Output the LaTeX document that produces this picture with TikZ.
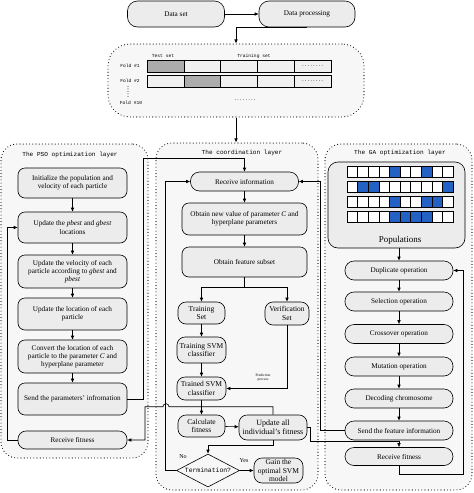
\documentclass[tikz,border=0pt]{standalone}
\usepackage{fontspec}
\setmainfont{Liberation Serif}
\setmonofont{Liberation Mono}
\usetikzlibrary{arrows.meta, shapes.geometric}
\definecolor{boxgray}{RGB}{236,236,236}
\definecolor{layergray}{RGB}{247,247,247}
\definecolor{testgray}{RGB}{172,172,172}
\definecolor{cellgray}{RGB}{240,240,240}
\definecolor{popblue}{RGB}{35,98,196}

\begin{document}
\begin{tikzpicture}[x=1pt, y=-1pt, line width=0.6pt, >={Latex[length=4pt,width=3.6pt]},
  layer/.style={draw, rounded corners=16pt, fill=layergray, line width=1.1pt, dash pattern=on 0pt off 3.2pt, line cap=round},
  box/.style={rectangle, draw, rounded corners=7pt, fill=boxgray, align=center, inner sep=1pt, font=\fontsize{7.2}{8.2}\selectfont},
  psobox/.style={box, minimum width=109},
  pill/.style={box, rounded corners=9pt, minimum width=108, minimum height=19},
  small/.style={box, rounded corners=8pt, font=\fontsize{7.5}{8.5}\selectfont},
  title/.style={font=\ttfamily\fontsize{6.1}{7}\selectfont},
  tiny/.style={font=\ttfamily\fontsize{4.6}{5}\selectfont},
  foldcell/.style={rectangle, draw, minimum width=36.8, minimum height=12, inner sep=0pt},
  popcell/.style={rectangle, draw, fill=white, minimum width=10.6, minimum height=10.5, inner sep=0pt},
]
\useasboundingbox (0,0) rectangle (474,493);

% データ
\node[box, rounded corners=10pt, minimum width=97, minimum height=26] (dataset) at (176,14) {Data set};
\node[box, rounded corners=10pt, minimum width=96, minimum height=26] (dataproc) at (307,14) {Data processing};
\draw[->] (dataset) -- (dataproc);

% 交差検証
\node[layer, rounded corners=22pt, minimum width=256, minimum height=73] (folds) at (236,80.5) {};
\draw[->] (dataproc.south) -| (folds.north);
\foreach \c/\ca/\cb in {1/testgray/cellgray, 2/cellgray/testgray, 3/cellgray/cellgray, 4/cellgray/cellgray, 5/cellgray/cellgray}{
  \node[foldcell, fill=\ca] (fa\c) at ({147+36.8*(\c-0.5)},66) {};
  \node[foldcell, fill=\cb] (fb\c) at ({147+36.8*(\c-0.5)},81) {};
}
\node[tiny] (testlbl) at (163,56) {Test set};
\node[tiny] (trainlbl) at (254,56) {Training set};
\node[tiny] (fold1) at (130,66) {Fold \#1};
\node[tiny] (fold2) at (130,81) {Fold \#2};
\node[tiny] (fold10) at (131,103) {Fold \#10};
\draw[dash pattern=on 0pt off 2.5pt, line cap=round, line width=0.9pt] ([xshift=-2pt]fold2.south) -- ([xshift=-3pt]fold10.north);
\node[tiny] (dotsa) at (fa5) {........};
\node[tiny] (dotsb) at (fb5) {........};
\node[tiny] (dotsc) at (245,100) {........};

% 三つの層
\node[layer, minimum width=147, minimum height=314] (pso) at (74.5,301) {};
\node[layer, minimum width=162, minimum height=347] (coord) at (237,316.5) {};
\node[layer, minimum width=147, minimum height=346] (ga) at (398.5,317) {};
\draw[->] (folds.south) -- (folds.south |- coord.north);
\node[title] (psotitle) at (70,155) {The PSO optimization layer};
\node[title] (coordtitle) at (242,153) {The coordination layer};
\node[title] (gatitle) at (400,153) {The GA optimization layer};

% PSO
\node[psobox, minimum height=30] (init) at (72.5,183) {Initialize the population and\\velocity of each particle};
\node[psobox, minimum height=31] (upbest) at (72.5,227.5) {Update the \textit{pbest} and \textit{gbest}\\locations};
\node[psobox, minimum height=33] (upvel) at (72.5,271.5) {Update the velocity of each\\particle according to \textit{gbest} and\\\textit{pbest}};
\node[psobox, minimum height=32] (uploc) at (72.5,314) {Update the location of each\\particle};
\node[psobox, minimum height=33] (conv) at (72.5,356.5) {Convert the location of each\\particle to the parameter \textit{C} and\\hyperplane parameter};
\node[psobox, minimum height=32] (sendp) at (72.5,399) {Send the parameters’ infromation};
\node[psobox, minimum height=18, rounded corners=8pt] (recvp) at (72.5,440) {Receive fitness};
\foreach \a/\b in {init/upbest, upbest/upvel, upvel/uploc, uploc/conv, conv/sendp}
  \draw[->] (\a) -- (\b);
\draw[->] (recvp.west) -- ++(-10,0) |- (upbest.west);

% 協調層
\node[pill] (recvinfo) at (244.5,181.5) {Receive information};
\node[box, minimum width=125, minimum height=32] (newval) at (244.5,219) {Obtain new value of parameter \textit{C} and\\hyperplane parameters};
\node[box, minimum width=125, minimum height=30] (featsub) at (244.5,262) {Obtain feature subset};
\node[small, minimum width=47, minimum height=22] (trainset) at (201.5,313) {Training\\Set};
\node[small, minimum width=44, minimum height=23] (verset) at (287,313.5) {Verification\\Set};
\node[small, minimum width=49, minimum height=26] (trainsvm) at (201.5,350) {Training SVM\\classifier};
\node[small, minimum width=49, minimum height=23] (trainedsvm) at (201.5,388.5) {Trained SVM\\classifier};
\node[small, minimum width=47, minimum height=22] (calcfit) at (201.5,426) {Calculate\\fitness};
\node[small, minimum width=68, minimum height=25, font=\fontsize{8}{9}\selectfont] (updall) at (273,427.5) {Update all\\individual’s fitness};
\node[diamond, draw, fill=layergray, minimum width=63, minimum height=33, inner sep=0pt,
  label={[font=\ttfamily\fontsize{6.4}{7}\selectfont]center:Termination?}] (term) at (208,470.5) {};
\node[small, minimum width=49, minimum height=25] (gain) at (278.5,470.5) {Gain the\\optimal SVM\\model};
\foreach \a/\b in {recvinfo/newval, newval/featsub, trainset/trainsvm, trainsvm/trainedsvm, trainedsvm/calcfit, calcfit/updall, term/gain}
  \draw[->] (\a) -- (\b);
\draw[->] (featsub.south) -- ++(0,10) -| (trainset.north);
\draw[->] (featsub.south) -- ++(0,10) -| (verset.north);
\draw[->] (verset.south) |- (trainedsvm.east);
\node[font=\fontsize{3.6}{4.2}\selectfont, align=center] (predlbl) at (263,378) {Prediction\\process};
\draw[->] (updall.south) -- ++(0,5) -| (term.north);
\draw[->] (term.west) -- ++(-11,0) |- (recvinfo.west);
\node[font=\fontsize{6}{7}\selectfont] (nolbl) at (183,457) {No};
\node[font=\fontsize{6}{7}\selectfont] (yeslbl) at (244,461) {Yes};

% GA
\node[box, rounded corners=10pt, minimum width=137, minimum height=86] (pop) at (396.5,205) {};
\foreach \r/\blues in {1/{5,8}, 2/{2,3,10}, 3/{5,8,9}, 4/{5,6,7,8}}{
  \foreach \c in {1,...,10}
    \node[popcell] (g\r-\c) at ({347+10.6*(\c-0.5)},{172+15*(\r-1)}) {};
  \foreach \c in \blues
    \node[popcell, fill=popblue] (b\r-\c) at (g\r-\c) {};
}
\node[font=\fontsize{9}{10}\selectfont] (poptext) at (400,240) {Populations};
\node[pill] (dup) at (399,270.5) {Duplicate operation};
\node[pill] (sel) at (399,301.5) {Selection operation};
\node[pill] (cross) at (399,334) {Crossover operation};
\node[pill] (mut) at (399,366.5) {Mutation operation};
\node[pill] (dec) at (399,398.5) {Decoding chromosome};
\node[pill] (sendf) at (399,430.5) {Send the feature information};
\node[pill, minimum height=18] (recvg) at (399,456.5) {Receive fitness};
\foreach \a/\b in {pop/dup, dup/sel, sel/cross, cross/mut, mut/dec, dec/sendf}
  \draw[->] (\b.north |- \a.south) -- (\b.north);
\draw[->] (recvg.south) -- ++(0,8) -| ([xshift=10pt]dup.east) -- (dup.east);

% 層間
\draw[->] (sendp.east) -- ++(16,0) |- ([yshift=13pt]recvinfo.north) -- (recvinfo.north);
\draw[->] (sendf.west) -- ++(-24,0) |- (recvinfo.east);
\draw[->] (updall.north) -- ++(0,-8) -- ++(-104,0) arc[start angle=0, end angle=180, radius=3pt] -- ++(-18,0) |- (recvp.east);
\draw[->] (updall.east) -- ++(3,0) |- ([yshift=6pt]recvg.north) -- (recvg.north);
\end{tikzpicture}
\end{document}
